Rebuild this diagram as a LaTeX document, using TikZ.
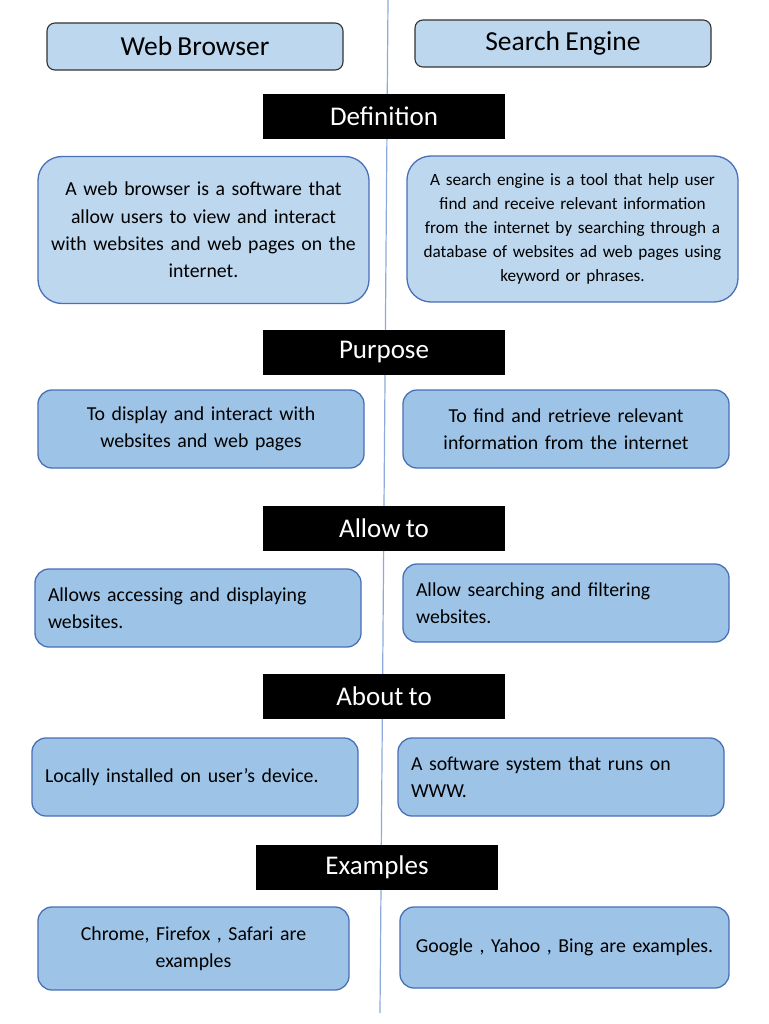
\documentclass[tikz,border=0pt]{standalone}
\usepackage{fontspec}
\setmainfont{Carlito}[WordSpace=0.85]
\definecolor{lightfill}{HTML}{BDD7EE}
\definecolor{midfill}{HTML}{9DC3E6}
\definecolor{boxedge}{HTML}{4A70B8}
\definecolor{darkedge}{HTML}{333333}
\definecolor{vlinecol}{HTML}{8EAADB}
\begin{document}
\begin{tikzpicture}[x=1pt,y=-1pt,
  titlebox/.style={draw=darkedge,line width=1.1pt,fill=lightfill,rounded corners=8pt,
    minimum width=296pt,minimum height=47pt,inner sep=0pt,
    font={\fontsize{27.5}{32}\selectfont}},
  blackhead/.style={fill=black,text=white,minimum width=242pt,minimum height=45pt,inner sep=0pt,
    font={\fontsize{27}{32}\selectfont}},
  defbox/.style={draw=boxedge,line width=1.3pt,fill=lightfill,rounded corners=24pt,
    minimum width=331pt,minimum height=147pt,inner xsep=5pt,text width=321pt,align=center},
  infobox/.style={draw=boxedge,line width=1.3pt,fill=midfill,rounded corners=14pt,
    minimum height=78pt,inner xsep=13pt,align=#1,
    font={\fontsize{19.8}{27}\selectfont}},
  infobox/.default=center,
  vline/.style={draw=vlinecol,line width=1.2pt}
]
\useasboundingbox (0,0) rectangle (768,1024);
\fill[white] (0,0) rectangle (768,1024);
% central divider
\coordinate (lt) at (388,0);
\coordinate (lb) at (380,1013);
\draw[vline] (lt) -- (lb);
% column titles
\node[titlebox] (wb) at (195,46.5) {Web Browser};
\node[titlebox] (se) at (563,43.5) {Search Engine};
% Definition
\node[blackhead] (hdef) at (384,116.5) {Definition};
\node[defbox,font={\fontsize{19.8}{27.2}\selectfont}] (dl) at (203.5,230)
  {A web browser is a software that\\allow users to view and interact\\with websites and web pages on the\\internet.};
\node[defbox,minimum height=146pt,font={\fontsize{17.2}{23.9}\selectfont}] (dr) at (572.5,229)
  {A search engine is a tool that help user\\find and receive relevant information\\from the internet by searching through a\\database of websites ad web pages using\\keyword or phrases.};
% Purpose
\node[blackhead] (hpur) at (384,352) {Purpose};
\node[infobox,minimum width=326pt,text width=300pt] (pl) at (201,429)
  {To display and interact with\\websites and web pages};
\node[infobox,minimum width=326pt,text width=300pt] (pr) at (566,429)
  {To find and retrieve relevant\\information from the internet};
% Allow to
\node[blackhead] (hall) at (384,528) {Allow to};
\node[infobox=left,minimum width=326pt,text width=300pt] (al) at (198,608)
  {Allows accessing and displaying\\websites.};
\node[infobox=left,minimum width=326pt,text width=300pt] (ar) at (566,603)
  {Allow searching and filtering\\websites.};
% About to
\node[blackhead] (habt) at (384,696.5) {About to};
\node[infobox=left,minimum width=326pt,text width=300pt] (bl) at (195,777)
  {Locally installed on user’s device.};
\node[infobox=left,minimum width=326pt,text width=300pt] (br) at (561,777)
  {A software system that runs on\\WWW.};
% Examples
\node[blackhead] (hex) at (377,867.5) {Examples};
\node[infobox,minimum width=311pt,minimum height=83pt,text width=285pt] (el) at (193.5,948.5)
  {Chrome, Firefox , Safari are\\examples};
\node[infobox,minimum width=329pt,minimum height=81pt,text width=303pt] (er) at (564.5,947.5)
  {Google , Yahoo , Bing are examples.};
\end{tikzpicture}
\end{document}
